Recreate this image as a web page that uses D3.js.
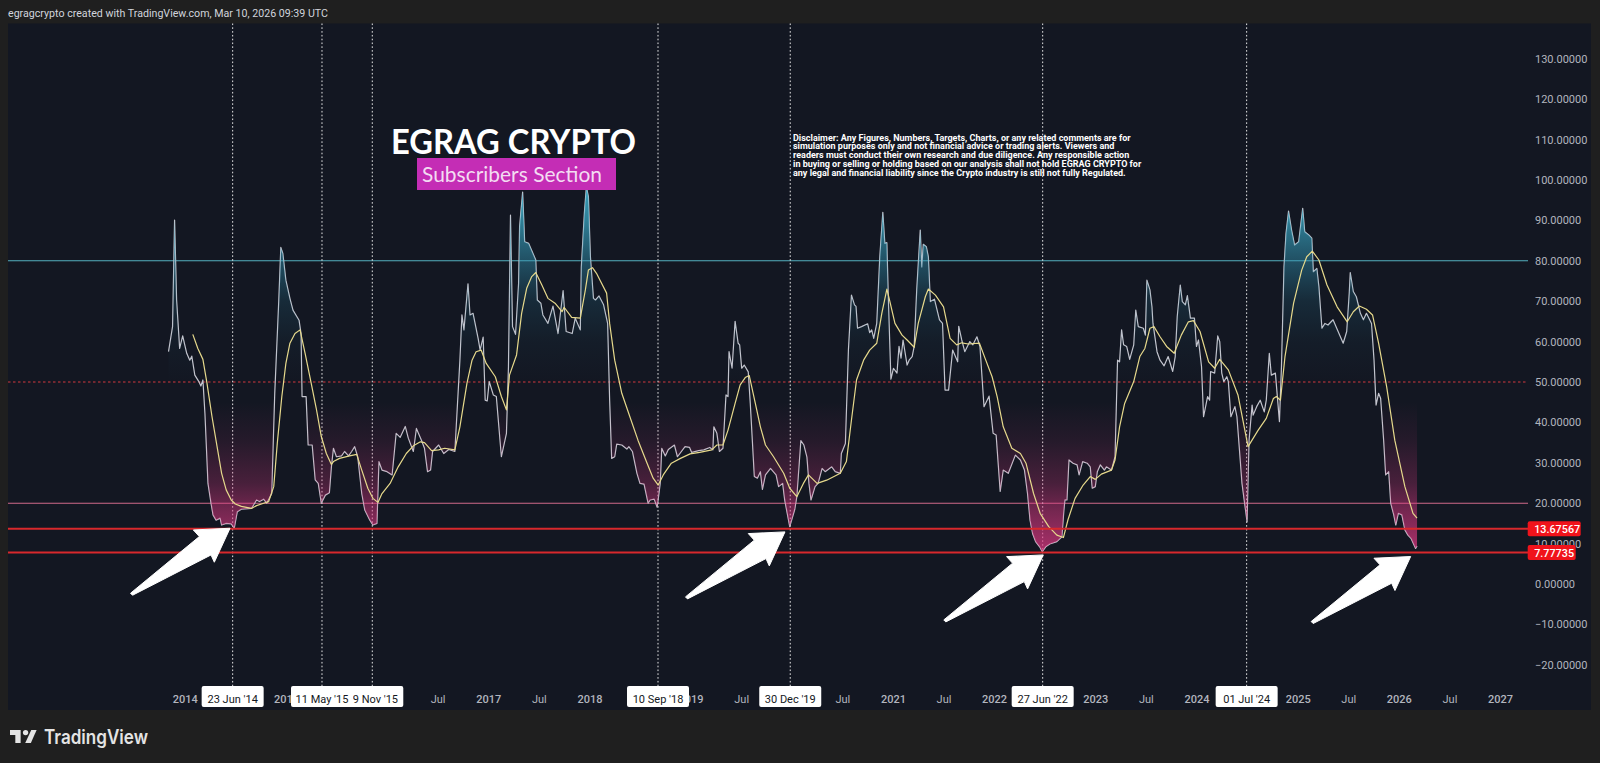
<!DOCTYPE html>
<html>
<head>
<meta charset="utf-8">
<title>EGRAG CRYPTO</title>
<script src="https://cdn.jsdelivr.net/npm/d3@7"></script>
<style>
	html, body { margin: 0; padding: 0; background: #1f1f1f; overflow: hidden; }
	svg { font-family: Roboto, sans-serif; }
</style>
</head>
<body>
<svg id="chart" width="1600" height="763"></svg>
<script>
(function() {

	'use strict';

	// weekly RSI: [decimal year, value]
	const rsiSeries = [
		[2013.84,57.5],[2013.88,63.7],[2013.90,90.1],[2013.92,70.3],[2013.95,58.3],[2013.98,61.4],[2014.02,57.1],[2014.05,55.4],
		[2014.07,56.4],[2014.10,51.7],[2014.14,50.1],[2014.16,49.0],[2014.18,50.5],[2014.20,42.2],[2014.23,24.9],[2014.26,20.0],
		[2014.28,17.1],[2014.31,15.8],[2014.35,16.3],[2014.365,14.6],[2014.41,15.0],[2014.46,14.9],[2014.49,13.8],[2014.52,17.9],
		[2014.56,18.5],[2014.66,18.7],[2014.71,20.8],[2014.74,20.4],[2014.78,21.0],[2014.81,20.0],[2014.86,22.4],[2014.89,47.2],
		[2014.93,70.3],[2014.95,83.3],[2014.97,81.8],[2015.00,75.2],[2015.04,70.7],[2015.07,67.8],[2015.13,65.3],[2015.15,62.0],
		[2015.16,46.4],[2015.20,46.4],[2015.22,34.4],[2015.26,34.4],[2015.29,25.8],[2015.32,24.9],[2015.35,20.0],[2015.39,22.0],
		[2015.43,22.6],[2015.45,29.0],[2015.47,33.6],[2015.50,31.5],[2015.55,31.7],[2015.58,32.8],[2015.62,31.7],[2015.65,32.8],
		[2015.68,34.0],[2015.71,31.5],[2015.75,22.4],[2015.78,18.3],[2015.83,15.8],[2015.86,14.6],[2015.90,15.0],[2015.92,30.3],
		[2015.95,28.2],[2016.00,27.8],[2016.05,27.0],[2016.09,37.3],[2016.13,36.3],[2016.18,39.0],[2016.21,36.1],[2016.26,32.8],
		[2016.29,38.5],[2016.34,35.6],[2016.37,33.6],[2016.40,27.8],[2016.43,28.2],[2016.45,32.8],[2016.51,34.4],[2016.56,32.3],
		[2016.61,33.3],[2016.67,32.8],[2016.72,55.4],[2016.74,66.6],[2016.76,62.9],[2016.80,74.3],[2016.82,66.6],[2016.85,67.0],
		[2016.90,60.8],[2016.92,57.9],[2016.95,61.1],[2016.97,45.5],[2016.99,45.3],[2017.01,50.1],[2017.05,46.8],[2017.08,46.4],
		[2017.13,31.5],[2017.18,37.3],[2017.20,53.8],[2017.22,91.3],[2017.24,63.7],[2017.27,61.8],[2017.30,74.4],[2017.31,88.5],
		[2017.34,97.0],[2017.36,84.7],[2017.40,84.3],[2017.47,80.2],[2017.485,70.3],[2017.52,69.5],[2017.54,66.6],[2017.59,64.5],
		[2017.64,68.8],[2017.69,62.0],[2017.74,72.6],[2017.77,62.5],[2017.83,62.0],[2017.86,65.8],[2017.91,62.9],[2017.92,78.5],
		[2017.95,91.75],[2017.97,98.3],[2017.99,95.9],[2018.01,81.0],[2018.04,70.7],[2018.06,70.3],[2018.095,71.3],[2018.14,69.1],
		[2018.18,64.5],[2018.20,45.5],[2018.22,31.1],[2018.25,31.5],[2018.27,34.6],[2018.32,34.4],[2018.37,33.4],[2018.39,34.0],
		[2018.425,32.8],[2018.47,27.4],[2018.50,24.9],[2018.54,24.7],[2018.58,20.0],[2018.60,20.8],[2018.64,21.0],[2018.67,19.0],
		[2018.70,24.9],[2018.715,33.6],[2018.75,31.7],[2018.78,33.3],[2018.84,34.4],[2018.87,31.5],[2018.945,34.0],[2018.99,33.8],
		[2019.01,32.6],[2019.08,33.0],[2019.13,33.2],[2019.19,33.8],[2019.22,33.2],[2019.23,38.9],[2019.26,37.3],[2019.285,32.8],
		[2019.32,33.6],[2019.35,46.8],[2019.37,46.4],[2019.38,57.5],[2019.41,53.4],[2019.44,65.0],[2019.47,59.6],[2019.485,59.2],
		[2019.505,53.4],[2019.53,54.2],[2019.57,52.5],[2019.59,44.7],[2019.63,26.6],[2019.66,26.2],[2019.69,27.8],[2019.71,23.4],
		[2019.74,27.0],[2019.79,28.6],[2019.845,27.0],[2019.87,24.1],[2019.91,24.9],[2019.93,20.8],[2019.98,14.2],[2020.03,18.5],
		[2020.05,21.6],[2020.09,35.5],[2020.12,34.4],[2020.15,31.4],[2020.17,24.9],[2020.19,20.8],[2020.23,24.1],[2020.26,24.9],
		[2020.30,28.6],[2020.33,27.8],[2020.395,29.0],[2020.43,27.8],[2020.48,27.4],[2020.49,32.3],[2020.53,34.8],[2020.56,57.9],
		[2020.59,71.5],[2020.62,69.1],[2020.635,68.7],[2020.65,63.3],[2020.69,63.7],[2020.75,64.4],[2020.77,62.2],[2020.79,62.9],
		[2020.81,60.8],[2020.84,64.5],[2020.87,81.0],[2020.90,92.0],[2020.92,84.3],[2020.94,84.5],[2020.955,70.3],[2020.98,50.7],
		[2021.005,53.4],[2021.04,52.2],[2021.06,58.8],[2021.08,55.9],[2021.10,60.4],[2021.14,54.2],[2021.16,55.4],[2021.19,56.3],
		[2021.21,58.8],[2021.235,72.8],[2021.27,87.6],[2021.285,78.5],[2021.30,84.1],[2021.33,83.5],[2021.35,81.0],[2021.37,69.9],
		[2021.41,70.5],[2021.46,65.4],[2021.49,64.5],[2021.515,48.0],[2021.55,48.0],[2021.59,57.9],[2021.64,55.0],[2021.65,63.8],
		[2021.68,60.4],[2021.71,57.5],[2021.76,60.0],[2021.79,59.2],[2021.83,61.2],[2021.86,58.8],[2021.90,43.9],[2021.95,46.5],
		[2021.99,37.3],[2022.02,36.9],[2022.06,22.9],[2022.09,28.2],[2022.14,27.4],[2022.21,31.9],[2022.26,30.7],[2022.30,28.2],
		[2022.33,22.4],[2022.355,15.8],[2022.38,12.5],[2022.41,10.5],[2022.45,9.2],[2022.476,8.0],[2022.51,9.2],[2022.55,9.9],
		[2022.62,10.5],[2022.67,11.7],[2022.69,18.3],[2022.70,20.8],[2022.72,20.8],[2022.74,30.7],[2022.78,29.9],[2022.82,29.5],
		[2022.84,27.0],[2022.875,30.3],[2022.92,29.9],[2022.95,29.0],[2022.97,23.7],[2023.00,24.1],[2023.02,27.8],[2023.05,29.5],
		[2023.09,28.2],[2023.11,29.0],[2023.16,28.2],[2023.195,31.5],[2023.22,55.4],[2023.24,55.0],[2023.26,62.9],[2023.28,59.2],
		[2023.31,58.8],[2023.34,55.6],[2023.38,59.2],[2023.40,67.8],[2023.425,63.7],[2023.475,63.3],[2023.495,61.6],[2023.51,75.2],
		[2023.54,72.8],[2023.56,68.6],[2023.57,64.5],[2023.61,57.5],[2023.64,55.4],[2023.68,54.0],[2023.72,56.3],[2023.765,52.6],
		[2023.79,56.3],[2023.81,66.2],[2023.84,74.0],[2023.86,69.9],[2023.89,69.1],[2023.91,71.4],[2023.94,65.8],[2023.98,65.8],
		[2024.00,58.8],[2024.02,60.4],[2024.05,53.8],[2024.07,41.4],[2024.11,46.4],[2024.13,45.5],[2024.14,52.6],[2024.18,52.2],
		[2024.21,61.4],[2024.23,60.0],[2024.25,52.2],[2024.27,50.1],[2024.30,51.3],[2024.315,50.1],[2024.34,41.4],[2024.38,43.9],
		[2024.40,41.4],[2024.45,24.9],[2024.50,15.4],[2024.52,35.6],[2024.55,44.3],[2024.56,41.8],[2024.595,43.9],[2024.63,45.5],
		[2024.67,42.6],[2024.69,45.5],[2024.72,57.1],[2024.74,51.7],[2024.78,52.2],[2024.82,40.2],[2024.84,53.8],[2024.865,78.5],
		[2024.885,86.8],[2024.91,92.3],[2024.94,87.6],[2024.97,83.9],[2025.01,84.7],[2025.05,93.0],[2025.07,87.2],[2025.11,86.4],
		[2025.14,85.6],[2025.155,77.3],[2025.19,78.1],[2025.21,73.6],[2025.24,63.3],[2025.27,64.5],[2025.30,64.1],[2025.35,65.4],
		[2025.40,62.5],[2025.45,59.6],[2025.485,62.5],[2025.51,72.0],[2025.52,77.1],[2025.55,72.4],[2025.58,71.1],[2025.62,67.0],
		[2025.65,65.4],[2025.68,67.0],[2025.73,64.5],[2025.755,55.4],[2025.775,44.3],[2025.80,47.2],[2025.82,46.0],[2025.85,35.6],
		[2025.87,27.0],[2025.90,27.8],[2025.92,20.0],[2025.95,17.1],[2025.97,14.6],[2025.995,17.5],[2026.03,17.1],[2026.06,13.4],
		[2026.09,12.1],[2026.12,11.3],[2026.166,8.8],[2026.18,9.4]
	];

	// moving average of the RSI
	const smaSeries = [
		[2014.08,61.8],[2014.13,58.3],[2014.18,55.6],[2014.22,49.7],[2014.27,41.4],[2014.32,34.0],[2014.365,27.4],[2014.41,23.3],
		[2014.46,20.8],[2014.50,19.8],[2014.56,19.2],[2014.66,18.7],[2014.71,19.4],[2014.78,20.0],[2014.83,20.4],[2014.88,24.1],
		[2014.915,34.8],[2014.96,46.4],[2015.00,54.6],[2015.04,59.6],[2015.09,62.0],[2015.14,62.9],[2015.19,57.1],[2015.25,49.7],
		[2015.30,43.5],[2015.35,36.5],[2015.40,32.3],[2015.45,29.6],[2015.47,30.3],[2015.53,31.1],[2015.63,31.7],[2015.70,32.1],
		[2015.75,28.2],[2015.81,23.7],[2015.86,21.2],[2015.91,20.2],[2015.95,22.4],[2016.03,24.9],[2016.11,29.0],[2016.19,32.3],
		[2016.26,34.2],[2016.33,35.2],[2016.37,35.0],[2016.44,33.0],[2016.51,33.2],[2016.57,33.6],[2016.67,33.2],[2016.72,38.9],
		[2016.79,49.7],[2016.84,55.4],[2016.88,57.5],[2016.93,57.9],[2016.98,54.6],[2017.07,51.3],[2017.13,46.4],[2017.18,43.1],
		[2017.21,51.7],[2017.28,56.7],[2017.33,67.0],[2017.38,73.2],[2017.43,76.1],[2017.47,77.1],[2017.53,74.0],[2017.59,70.7],
		[2017.66,69.5],[2017.73,67.4],[2017.75,68.5],[2017.825,66.0],[2017.91,65.8],[2017.96,72.8],[2017.99,77.7],[2018.03,78.3],
		[2018.07,76.9],[2018.105,75.2],[2018.17,72.0],[2018.20,64.5],[2018.25,55.4],[2018.32,47.2],[2018.40,41.4],[2018.48,35.6],
		[2018.57,29.9],[2018.63,26.2],[2018.68,24.5],[2018.73,27.0],[2018.81,29.9],[2018.90,31.1],[2018.995,32.2],[2019.09,32.6],
		[2019.21,33.2],[2019.26,34.4],[2019.32,34.4],[2019.37,38.1],[2019.44,44.7],[2019.49,49.3],[2019.54,51.1],[2019.58,51.6],
		[2019.64,44.7],[2019.69,38.9],[2019.74,34.4],[2019.82,31.5],[2019.92,27.4],[2019.98,23.7],[2020.05,21.6],[2020.115,24.9],
		[2020.165,27.0],[2020.25,24.9],[2020.345,25.7],[2020.48,27.4],[2020.54,30.3],[2020.59,40.6],[2020.64,50.5],[2020.71,55.4],
		[2020.77,57.9],[2020.84,59.6],[2020.89,67.0],[2020.94,73.0],[2020.97,69.9],[2021.02,64.5],[2021.09,61.6],[2021.14,60.4],
		[2021.21,58.6],[2021.25,64.5],[2021.32,71.1],[2021.35,73.0],[2021.42,71.5],[2021.50,68.6],[2021.565,60.8],[2021.63,59.2],
		[2021.68,59.7],[2021.745,59.4],[2021.855,59.6],[2021.91,55.9],[2021.98,51.3],[2022.03,46.4],[2022.09,38.9],[2022.175,33.6],
		[2022.26,32.3],[2022.315,29.9],[2022.39,22.4],[2022.455,17.5],[2022.54,14.2],[2022.62,12.1],[2022.685,11.5],[2022.73,15.9],
		[2022.80,21.2],[2022.88,24.5],[2022.95,26.6],[2023.00,25.9],[2023.06,27.2],[2023.16,28.2],[2023.195,30.7],[2023.24,38.9],
		[2023.29,44.7],[2023.38,50.1],[2023.44,56.3],[2023.49,58.3],[2023.54,63.3],[2023.58,63.7],[2023.64,61.2],[2023.705,58.8],
		[2023.78,57.1],[2023.85,61.6],[2023.92,64.9],[2023.97,65.2],[2024.035,62.5],[2024.12,55.0],[2024.18,53.4],[2024.23,55.6],
		[2024.315,53.0],[2024.41,46.8],[2024.51,34.0],[2024.61,38.1],[2024.69,41.0],[2024.76,45.9],[2024.79,46.4],[2024.83,45.5],
		[2024.875,56.3],[2024.96,69.5],[2025.04,77.7],[2025.09,81.0],[2025.145,82.4],[2025.21,80.2],[2025.29,74.0],[2025.39,68.6],
		[2025.49,64.9],[2025.55,67.4],[2025.61,68.8],[2025.68,68.0],[2025.74,66.6],[2025.80,59.6],[2025.88,48.8],[2025.96,35.6],
		[2026.06,24.1],[2026.14,17.5],[2026.18,16.3]
	];

	const priceTicks = [130,120,110,100,90,80,70,60,50,40,30,20,10,0,-10,-20];
	const timeTicks = [2014,2014.5,2015,2015.5,2016,2016.5,2017,2017.5,2018,2018.5,2019,2019.5,2020,2020.5,2021,2021.5,2022,2022.5,2023,2023.5,2024,2024.5,2025,2025.5,2026,2026.5,2027];

	const overbought = 80, midline = 50, oversold = 20;
	const supportLevels = [13.67567, 7.77735];

	// last one in the list is drawn on top, that is how the tags overlap in the picture
	const eventDates = [2015.854, 2014.474, 2015.357, 2018.678, 2019.985, 2022.48, 2024.496];
	const eventLabels = ["09 Nov '15", "23 Jun '14", "11 May '15", "10 Sep '18", "30 Dec '19", "27 Jun '22", "01 Jul '24"];

	const arrowTips = [[2014.448,13.8],[2019.933,12.9],[2022.486,7.2],[2026.117,6.8]];

	const disclaimerLines = [
		"Disclaimer: Any Figures, Numbers, Targets, Charts, or any related comments are for",
		"simulation purposes only and not financial advice or trading alerts. Viewers and",
		"readers must conduct their own research and due diligence. Any responsible action",
		"in buying or selling or holding based on our analysis shall not hold EGRAG CRYPTO for",
		"any legal and financial liability since the Crypto industry is still not fully Regulated."
	];

	const svg = d3.select("#chart");

	const x = d3.scaleLinear().domain([2014, 2027]).range([184.7, 1500]);
	const y = d3.scaleLinear().domain([-20, 130]).range([664.8, 58.8]);

	svg.append("rect").attr("x", 8).attr("y", 23.5).attr("width", 1583).attr("height", 686.5).attr("fill", "#131722");

	svg.append("text")
		.attr("x", 8).attr("y", 17)
		.attr("fill", "#d1d4dc").attr("font-size", 11.5)
		.attr("textLength", 320).attr("lengthAdjust", "spacingAndGlyphs")
		.text("egragcrypto created with TradingView.com, Mar 10, 2026 09:39 UTC");

	/* gradients for the two fills */
	const defs = svg.append("defs");

	function AddGradient( id, top, bottom, stops)
	{
		const g = defs.append("linearGradient")
			.attr("id", id)
			.attr("gradientUnits", "userSpaceOnUse")
			.attr("x1", 0).attr("x2", 0)
			.attr("y1", y(top)).attr("y2", y(bottom));

		stops.forEach( function(s) {
			g.append("stop")
				.attr("offset", (top - s[0]) / (top - bottom))
				.attr("stop-color", s[1])
				.attr("stop-opacity", s[2]);
		});
	}

	AddGradient( "upFill", 100, midline, [
		[100, "#3fb4d2", 0.9], [90, "#3aa8c4", 0.72], [80, "#3296b4", 0.45],
		[70, "#2a8aa8", 0.17], [60, "#2a8aa8", 0.05], [50, "#2a8aa8", 0]
	]);
	AddGradient( "downFill", midline, 0, [
		[45, "#d8377f", 0], [35, "#d8377f", 0.1], [25, "#d8377f", 0.27],
		[18, "#d8377f", 0.5], [10, "#d8377f", 0.72], [0, "#d8377f", 0.9]
	]);

	/* reference lines */
	function HLine( v, color, width, dash)
	{
		svg.append("line")
			.attr("x1", 8).attr("x2", 1528)
			.attr("y1", y(v)).attr("y2", y(v))
			.attr("stroke", color).attr("stroke-width", width)
			.attr("stroke-dasharray", dash);
	}

	HLine( overbought, "#54b0bf", 1.1, null);
	HLine( midline, "#d0393f", 1.2, "2.5 2.5");
	HLine( oversold, "#d06a8a", 1.1, null);

	/* event markers */
	svg.append("g").selectAll("line")
		.data( eventDates)
		.enter()
		.append("line")
		.attr("x1", function(d) { return x(d); })
		.attr("x2", function(d) { return x(d); })
		.attr("y1", 23.5).attr("y2", 686)
		.attr("stroke", "#e8e8e8").attr("stroke-width", 1)
		.attr("stroke-dasharray", "1.6 2.2");

	/* RSI and its fills */
	const rsiLine = d3.line()
		.x(function(d) { return x(d[0]); })
		.y(function(d) { return y(d[1]); });

	svg.append("path")
		.datum( rsiSeries)
		.attr("d", rsiLine)
		.attr("fill", "none")
		.attr("stroke", "#c4c5ce").attr("stroke-width", 1.2)
		.attr("stroke-linejoin", "round");

	const upArea = d3.area()
		.x(function(d) { return x(d[0]); })
		.y0( y(midline))
		.y1(function(d) { return y(Math.max(d[1], midline)); });

	const downArea = d3.area()
		.x(function(d) { return x(d[0]); })
		.y0( y(midline))
		.y1(function(d) { return y(Math.min(d[1], midline)); });

	svg.append("path").datum( rsiSeries).attr("d", upArea).attr("fill", "url(#upFill)");
	svg.append("path").datum( rsiSeries).attr("d", downArea).attr("fill", "url(#downFill)");

	svg.append("path")
		.datum( smaSeries)
		.attr("d", rsiLine)
		.attr("fill", "none")
		.attr("stroke", "#e6d98c").attr("stroke-width", 1.2)
		.attr("stroke-linejoin", "round");

	/* the two red support levels go over the fills */
	supportLevels.forEach( function(v) { HLine( v, "#d8282c", 2, null); });

	/* arrows */
	const arrowShape = d3.line()([[0,0],[-15.7,34],[-19,26.7],[-97.5,67],[-99.5,65],[-30.7,8.3],[-36.7,1.7]]) + "Z";

	svg.append("g").selectAll("path")
		.data( arrowTips)
		.enter()
		.append("path")
		.attr("d", arrowShape)
		.attr("fill", "#ffffff")
		.attr("stroke", "#ffffff").attr("stroke-width", 1).attr("stroke-linejoin", "round")
		.attr("transform", function(d) { return "translate(" + x(d[0]) + "," + y(d[1]) + ")"; });

	/* axes */
	const priceAxis = d3.axisRight( y)
		.tickValues( priceTicks)
		.tickSize( 0)
		.tickPadding( 0)
		.tickFormat( d3.format(".5f"));

	const priceG = svg.append("g").attr("transform", "translate(1535,0)").call( priceAxis);
	priceG.select(".domain").remove();
	priceG.attr("font-family", null);
	priceG.selectAll("text")
		.attr("fill", "#b2b5be").attr("font-size", 11);

	const timeAxis = d3.axisBottom( x)
		.tickValues( timeTicks)
		.tickSize( 0)
		.tickPadding( 0)
		.tickFormat( function(d) { return Number.isInteger(d) ? String(d) : "Jul"; });

	const timeG = svg.append("g").attr("transform", "translate(0,695)").call( timeAxis);
	timeG.select(".domain").remove();
	timeG.attr("font-family", null);
	timeG.selectAll("text")
		.attr("fill", "#b2b5be").attr("font-size", 11)
		.attr("font-weight", function(d) { return Number.isInteger(d) ? 500 : 400; });

	/* date tags under the event markers */
	const tags = svg.append("g").selectAll("g")
		.data( eventDates)
		.enter()
		.append("g")
		.attr("transform", function(d) { return "translate(" + x(d) + ",686)"; });

	tags.append("rect")
		.attr("x", -31).attr("width", 62).attr("height", 21).attr("rx", 2)
		.attr("fill", "#ffffff");

	tags.append("text")
		.attr("y", 16.5)
		.attr("text-anchor", "middle")
		.attr("fill", "#131722").attr("font-size", 11)
		.text(function(d, i) { return eventLabels[i]; });

	/* price tags for the support levels */
	const levelTags = svg.append("g").selectAll("g")
		.data( supportLevels)
		.enter()
		.append("g")
		.attr("transform", function(d) { return "translate(1527.7," + y(d) + ")"; });

	levelTags.append("rect")
		.attr("y", -7.5).attr("height", 15).attr("rx", 2)
		.attr("width", function(d, i) { return i === 0 ? 53 : 48; })
		.attr("fill", "#f0131b");

	levelTags.append("text")
		.attr("x", 6.5).attr("y", 4)
		.attr("fill", "#ffffff").attr("font-size", 10.8).attr("font-weight", 500)
		.text(function(d) { return d3.format(".5f")(d); });

	/* annotations drawn by the author */
	svg.append("text")
		.attr("x", 513.5).attr("y", 154)
		.attr("text-anchor", "middle")
		.attr("fill", "#ffffff").attr("font-size", 35).attr("font-weight", 700)
		.attr("font-family", "Lato, sans-serif")
		.attr("textLength", 245).attr("lengthAdjust", "spacingAndGlyphs")
		.text("EGRAG CRYPTO");

	svg.append("rect")
		.attr("x", 417).attr("y", 158).attr("width", 199).attr("height", 32)
		.attr("fill", "#c42db5");

	svg.append("text")
		.attr("x", 512).attr("y", 182)
		.attr("text-anchor", "middle")
		.attr("fill", "#f3dcf2").attr("font-size", 22)
		.attr("font-family", "Lato, sans-serif")
		.attr("textLength", 180).attr("lengthAdjust", "spacingAndGlyphs")
		.text("Subscribers Section");

	svg.append("g").selectAll("text")
		.data( disclaimerLines)
		.enter()
		.append("text")
		.attr("x", 793)
		.attr("y", function(d, i) { return 140.5 + i * 8.75; })
		.attr("fill", "#ffffff").attr("font-size", 9).attr("font-weight", 700)
		.text(function(d) { return d; });

	/* TradingView mark at the bottom */
	const logo = svg.append("g").attr("transform", "translate(10,725.4) scale(0.76)").attr("fill", "#e4e4e4");
	logo.append("path").attr("d", "M14 6H0v6.5h7V23h7V6z");
	logo.append("circle").attr("cx", 20.5).attr("cy", 9.5).attr("r", 3.5);
	logo.append("path").attr("d", "M28 6h7l-7.5 17H20z");

	svg.append("text")
		.attr("x", 44).attr("y", 744)
		.attr("fill", "#e4e4e4").attr("font-size", 19.5).attr("font-weight", 600)
		.attr("font-family", "Inter, sans-serif")
		.attr("textLength", 104).attr("lengthAdjust", "spacingAndGlyphs")
		.text("TradingView");

 })();
</script>
</body>
</html>
